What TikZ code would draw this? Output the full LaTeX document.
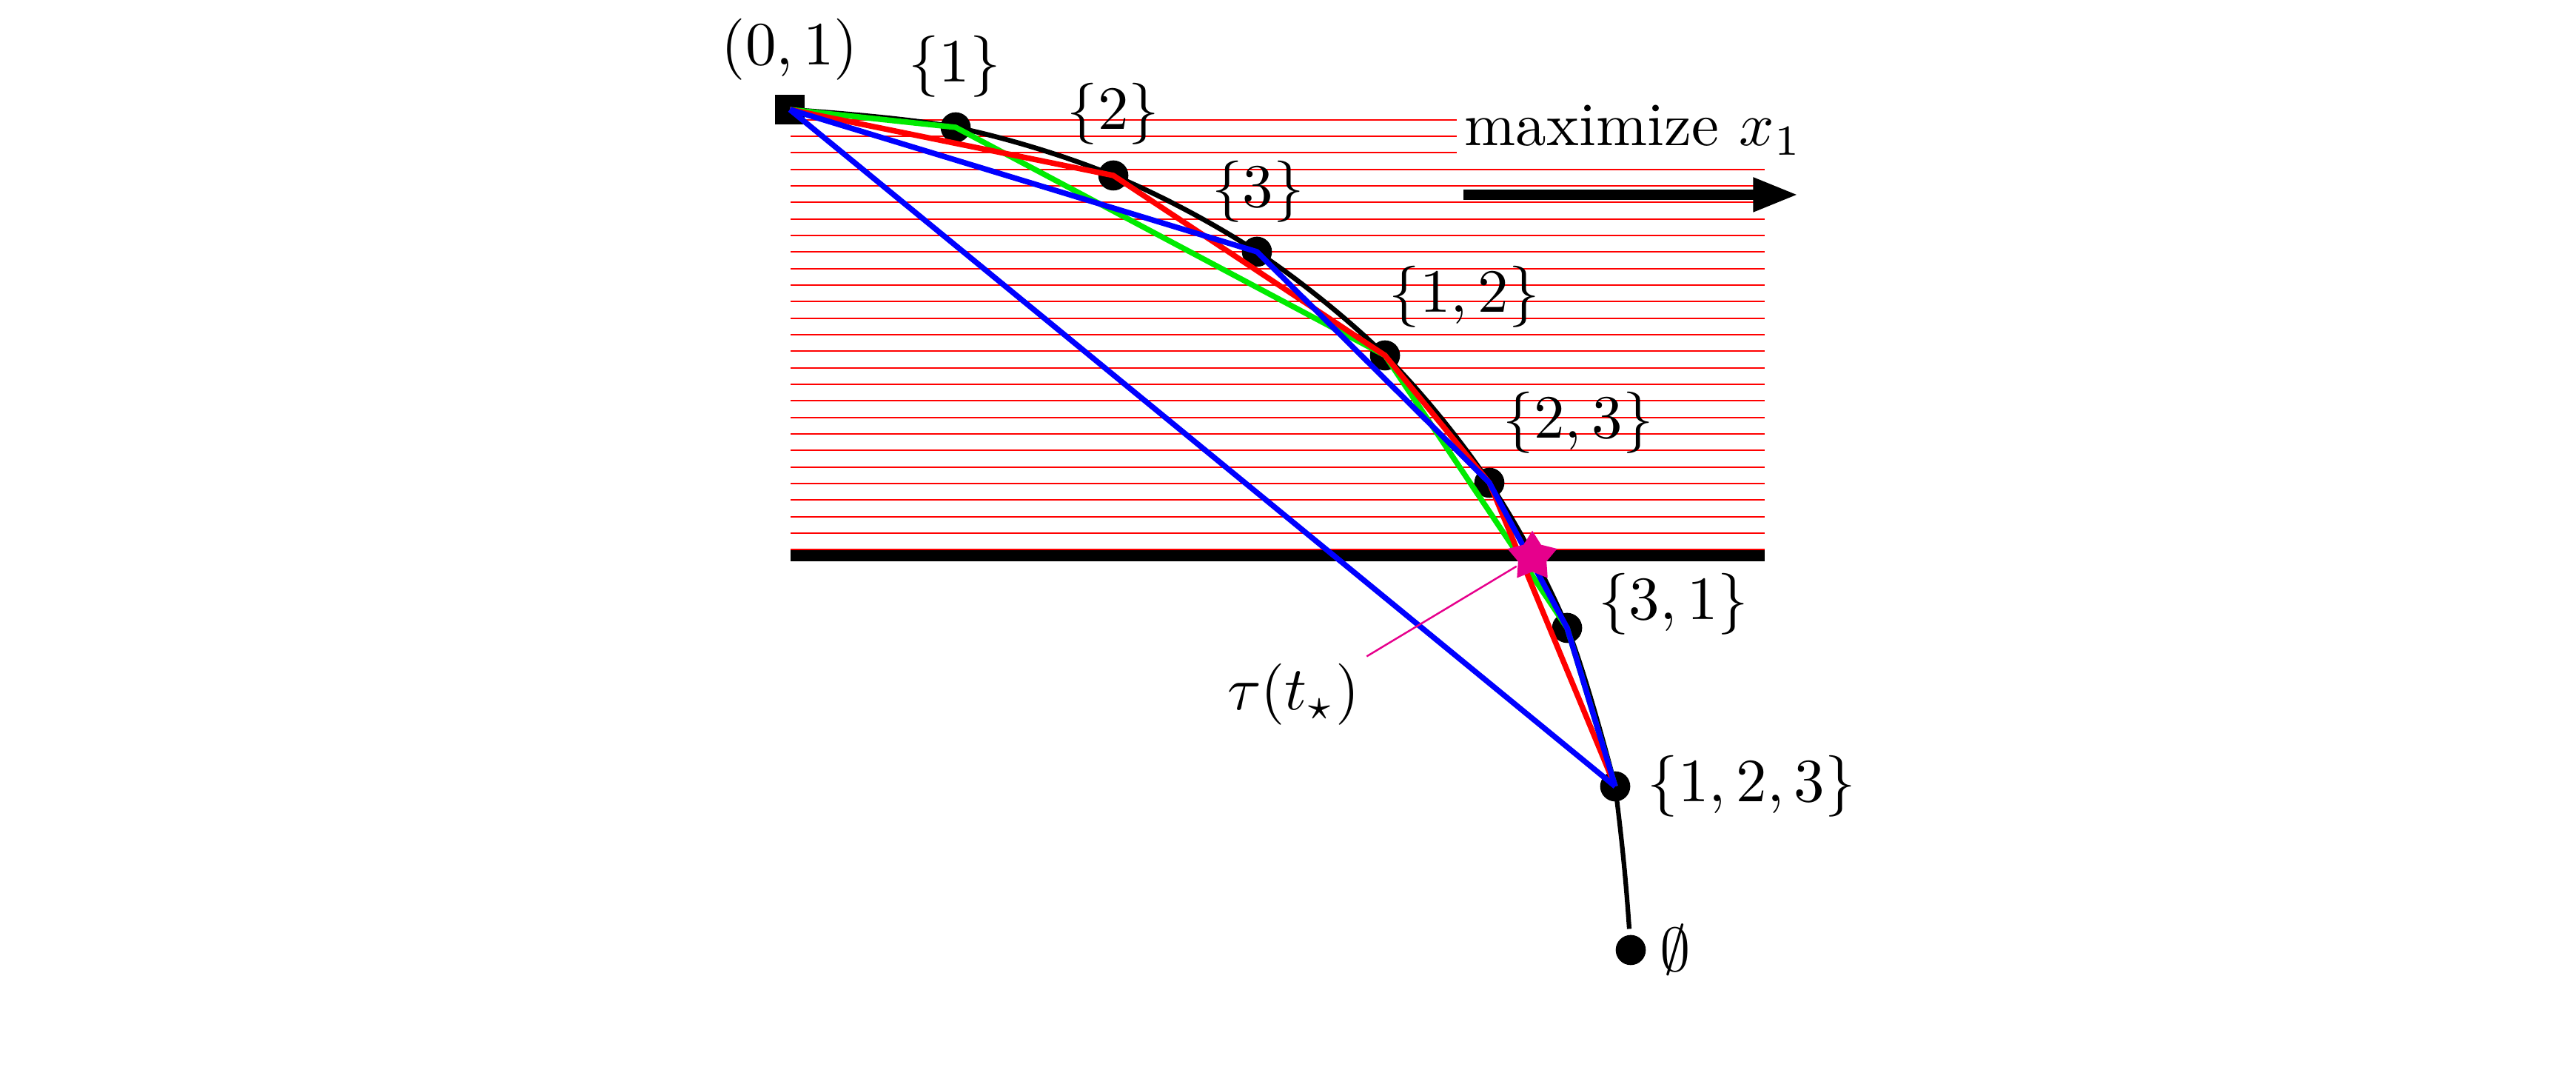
\documentclass[tikz,border=0pt]{standalone}
\usepackage{tikz}
\usetikzlibrary{arrows.meta,shapes.geometric}
\definecolor{tstar}{RGB}{230,0,140}
\definecolor{lgreen}{RGB}{0,235,0}
\def\hatchtop{13.103}
\def\hatchstep{0.2233}

\begin{document}
\begin{tikzpicture}[x=12.05pt, y=12.05pt,
	dot/.style={circle, fill, inner sep=0pt, minimum size=4.9pt},
	lbl/.style={inner sep=0pt},
	curve/.style={line width=0.8pt},
	chain/.style={line width=0.9pt, line join=round}]
	\useasboundingbox (0,0) rectangle (34.80,14.72);
	% level sets of x_1
	\foreach \k in {0,1,2}
		\draw[red, line width=0.25pt] (10.68,\hatchtop-\hatchstep*\k) -- (19.68,\hatchtop-\hatchstep*\k);
	\foreach \k in {3,...,26}
		\draw[red, line width=0.25pt] (10.68,\hatchtop-\hatchstep*\k) -- (23.84,\hatchtop-\hatchstep*\k);
	\draw[line width=1.8pt] (10.68,7.21) -- (23.84,7.21);
	% objective
	\coordinate (a0) at (19.77,12.09);
	\coordinate (a1) at (24.29,12.09);
	\draw[line width=1.6pt, -{Triangle[length=7.3pt,width=5.2pt]}] (a0) -- (a1);
	\node[anchor=base west, inner sep=0pt] (goal) at (19.77,12.75) {maximize $x_1$};
	% vertices
	\node[rectangle, fill, inner sep=0pt, minimum size=4.8pt] (sq) at (10.67,13.24) {};
	\node[dot] (n1) at (12.91,13.00) {};
	\node[dot] (n2) at (15.04,12.35) {};
	\node[dot] (n3) at (16.98,11.32) {};
	\node[dot] (n12) at (18.71,9.92) {};
	\node[dot] (n23) at (20.12,8.20) {};
	\node[dot] (n31) at (21.17,6.24) {};
	\node[dot] (n123) at (21.82,4.10) {};
	\node[dot] (ne) at (22.03,1.89) {};
	% curve and chains
	\draw[curve] plot[smooth, tension=0.55] coordinates {(sq.center) (n1.center) (n2.center) (n3.center) (n12.center) (n23.center) (n31.center) (n123.center)};
	\draw[line width=0.75pt, shorten >=0.8pt] (n123.center) to[out=-83,in=94] (ne);
	\draw[chain, lgreen] (sq.center) -- (n1.center) -- (n12.center) -- (n31.center) -- (n123.center);
	\draw[chain, red] (sq.center) -- (n2.center) -- (n12.center) -- (n23.center) -- (n123.center);
	\draw[chain, blue] (sq.center) -- (n3.center) -- (n23.center) -- (n31.center) -- (n123.center);
	\draw[chain, blue] (sq.center) -- (n123.center);
	% optimum
	\node[star, star points=5, star point ratio=1.75, fill=tstar, inner sep=0pt, minimum size=8.5pt] (ts) at (20.70,7.20) {};
	\node[inner sep=1pt] (tau) at ([shift={(-38.9pt,-22.4pt)}]ts) {$\tau(t_\star)$};
	\draw[tstar, line width=0.3pt] (tau.north east) -- (ts);
	% labels
	\node[lbl] (l0) at ([shift={(0pt,9.8pt)}]sq) {$(0,1)$};
	\node[lbl] (l1) at ([shift={(-0.2pt,9.9pt)}]n1) {$\{1\}$};
	\node[lbl] (l2) at ([shift={(0pt,10pt)}]n2) {$\{2\}$};
	\node[lbl] (l3) at ([shift={(0.2pt,9.8pt)}]n3) {$\{3\}$};
	\node[lbl] (l12) at ([shift={(12.9pt,9.6pt)}]n12) {$\{1,2\}$};
	\node[lbl] (l23) at ([shift={(14.5pt,9.8pt)}]n23) {$\{2,3\}$};
	\node[lbl] (l31) at ([shift={(17.3pt,3.9pt)}]n31) {$\{3,1\}$};
	\node[lbl] (l123) at ([shift={(22.2pt,0pt)}]n123) {$\{1,2,3\}$};
	\node[lbl] (le) at ([shift={(7.2pt,0pt)}]ne) {$\emptyset$};
\end{tikzpicture}
\end{document}
